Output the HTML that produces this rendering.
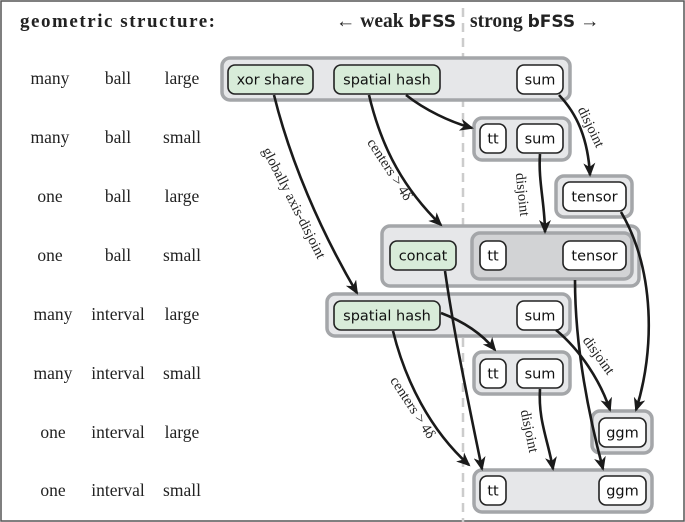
<!DOCTYPE html>
<html><head><meta charset="utf-8"><style>
html,body{margin:0;padding:0;background:#fff}
svg{display:block}
.s{font-family:"DejaVu Sans","Liberation Sans",sans-serif;font-size:14.5px;fill:#111}
.r{font-family:"Liberation Serif","DejaVu Serif",serif;font-size:17.5px;fill:#222}
.l{font-family:"Liberation Serif","DejaVu Serif",serif;font-size:14.5px;fill:#222}
.g{fill:#e6e7e9;stroke:#a4a6a9;stroke-width:3.5}
.gd{fill:#d2d3d5;stroke:#a4a6a9;stroke-width:3.5}
.w{fill:#fff;stroke:#222;stroke-width:1.6}
.n{fill:#d8ecd9;stroke:#222;stroke-width:1.6}
.a{fill:none;stroke:#1a1a1a;stroke-width:2.6}
</style></head><body>
<svg width="685" height="522" viewBox="0 0 685 522" xmlns="http://www.w3.org/2000/svg">
<defs><marker id="m" viewBox="0 0 14 12" refX="12" refY="6" markerWidth="14" markerHeight="12" orient="auto" markerUnits="userSpaceOnUse"><path d="M0,0 L14,6 L0,12 L4,6 Z" fill="#1a1a1a"/></marker></defs>
<rect x="1" y="1" width="683" height="520" fill="#fff" stroke="#555" stroke-width="1.5"/>
<line x1="463" y1="8" x2="463" y2="522" stroke="#ccc" stroke-width="2.5" stroke-dasharray="9,6"/>
<text x="20" y="27" class="r" style="font-weight:bold;font-size:19px" textLength="195" lengthAdjust="spacing">geometric structure:</text>
<text x="456" y="27" class="r" text-anchor="end" style="font-weight:bold;font-size:19.5px">← weak <tspan style="font-family:'DejaVu Sans',sans-serif;font-size:17px">bFSS</tspan></text>
<text x="470" y="27" class="r" style="font-weight:bold;font-size:19.5px">strong <tspan style="font-family:'DejaVu Sans',sans-serif;font-size:17px">bFSS</tspan> →</text>
<g class="r" text-anchor="middle">
<text x="50" y="84">many</text><text x="118" y="84">ball</text><text x="182" y="84">large</text>
<text x="50" y="143">many</text><text x="118" y="143">ball</text><text x="182" y="143">small</text>
<text x="50" y="202">one</text><text x="118" y="202">ball</text><text x="182" y="202">large</text>
<text x="50" y="261">one</text><text x="118" y="261">ball</text><text x="182" y="261">small</text>
<text x="53" y="320">many</text><text x="118" y="320">interval</text><text x="182" y="320">large</text>
<text x="53" y="379">many</text><text x="118" y="379">interval</text><text x="182" y="379">small</text>
<text x="53" y="438">one</text><text x="118" y="438">interval</text><text x="182" y="438">large</text>
<text x="53" y="496">one</text><text x="118" y="496">interval</text><text x="182" y="496">small</text>
</g>
<rect class="g" x="222" y="58" width="348" height="42" rx="8"/>
<rect class="g" x="474" y="118" width="96" height="42" rx="8"/>
<rect class="g" x="556" y="176" width="76" height="41" rx="8"/>
<rect class="g" x="382" y="226" width="257" height="60" rx="8"/>
<rect class="gd" x="472" y="233" width="160" height="46" rx="8"/>
<rect class="g" x="327" y="294" width="243" height="42" rx="8"/>
<rect class="g" x="474" y="352" width="96" height="42" rx="8"/>
<rect class="g" x="592" y="411" width="60" height="42" rx="8"/>
<rect class="g" x="474" y="470" width="178" height="42" rx="8"/>
<g>
<rect class="n" x="228" y="65" width="85" height="29" rx="7"/><text class="s" x="270.5" y="84.5" text-anchor="middle">xor share</text>
<rect class="n" x="334" y="65" width="106" height="29" rx="7"/><text class="s" x="387" y="84.5" text-anchor="middle">spatial hash</text>
<rect class="w" x="517" y="65" width="46" height="29" rx="7"/><text class="s" x="540" y="84.5" text-anchor="middle">sum</text>
<rect class="w" x="480" y="124" width="26" height="29" rx="7"/><text class="s" x="493" y="143.5" text-anchor="middle">tt</text>
<rect class="w" x="517" y="124" width="46" height="29" rx="7"/><text class="s" x="540" y="143.5" text-anchor="middle">sum</text>
<rect class="w" x="563" y="182" width="63" height="29" rx="7"/><text class="s" x="594.5" y="201.5" text-anchor="middle">tensor</text>
<rect class="n" x="390" y="241" width="66" height="29" rx="7"/><text class="s" x="423" y="260.5" text-anchor="middle">concat</text>
<rect class="w" x="480" y="241" width="26" height="29" rx="7"/><text class="s" x="493" y="260.5" text-anchor="middle">tt</text>
<rect class="w" x="563" y="241" width="63" height="29" rx="7"/><text class="s" x="594.5" y="260.5" text-anchor="middle">tensor</text>
<rect class="n" x="334" y="301" width="106" height="29" rx="7"/><text class="s" x="387" y="320.5" text-anchor="middle">spatial hash</text>
<rect class="w" x="517" y="301" width="46" height="29" rx="7"/><text class="s" x="540" y="320.5" text-anchor="middle">sum</text>
<rect class="w" x="480" y="359" width="26" height="29" rx="7"/><text class="s" x="493" y="378.5" text-anchor="middle">tt</text>
<rect class="w" x="517" y="359" width="46" height="29" rx="7"/><text class="s" x="540" y="378.5" text-anchor="middle">sum</text>
<rect class="w" x="599" y="418" width="47" height="29" rx="7"/><text class="s" x="622.5" y="437.5" text-anchor="middle">ggm</text>
<rect class="w" x="480" y="476" width="26" height="29" rx="7"/><text class="s" x="493" y="495.5" text-anchor="middle">tt</text>
<rect class="w" x="599" y="476" width="47" height="29" rx="7"/><text class="s" x="622.5" y="495.5" text-anchor="middle">ggm</text>
</g>
<g class="a" marker-end="url(#m)">
<path d="M274,95 C290,160 320,230 357,293"/>
<path d="M369,95 C382,150 405,190 441,225"/>
<path d="M406,95 C425,110 450,122 472,128"/>
<path d="M559,95 C578,115 588,140 590,175"/>
<path d="M540,154 C538,180 545,205 545,232"/>
<path d="M621,212 C655,270 655,350 636,410"/>
<path d="M445,271 C455,340 470,410 482,469"/>
<path d="M575,280 C575,350 590,420 603,469"/>
<path d="M393,331 C405,380 430,430 469,465"/>
<path d="M441,313 C465,322 483,335 495,350"/>
<path d="M556,330 C580,350 600,380 610,410"/>
<path d="M540,389 C538,420 548,440 553,469"/>
</g>
<g class="l" text-anchor="middle">
<text transform="translate(290,205) rotate(63)">globally axis-disjoint</text>
<text transform="translate(386,172) rotate(57)">centers &gt; 4δ</text>
<text transform="translate(587,129) rotate(64)">disjoint</text>
<text transform="translate(518,195) rotate(84)">disjoint</text>
<text transform="translate(595,358) rotate(54)">disjoint</text>
<text transform="translate(409,410) rotate(57)">centers &gt; 4δ</text>
<text transform="translate(525,432) rotate(78)">disjoint</text>
</g>
</svg>
</body></html>
